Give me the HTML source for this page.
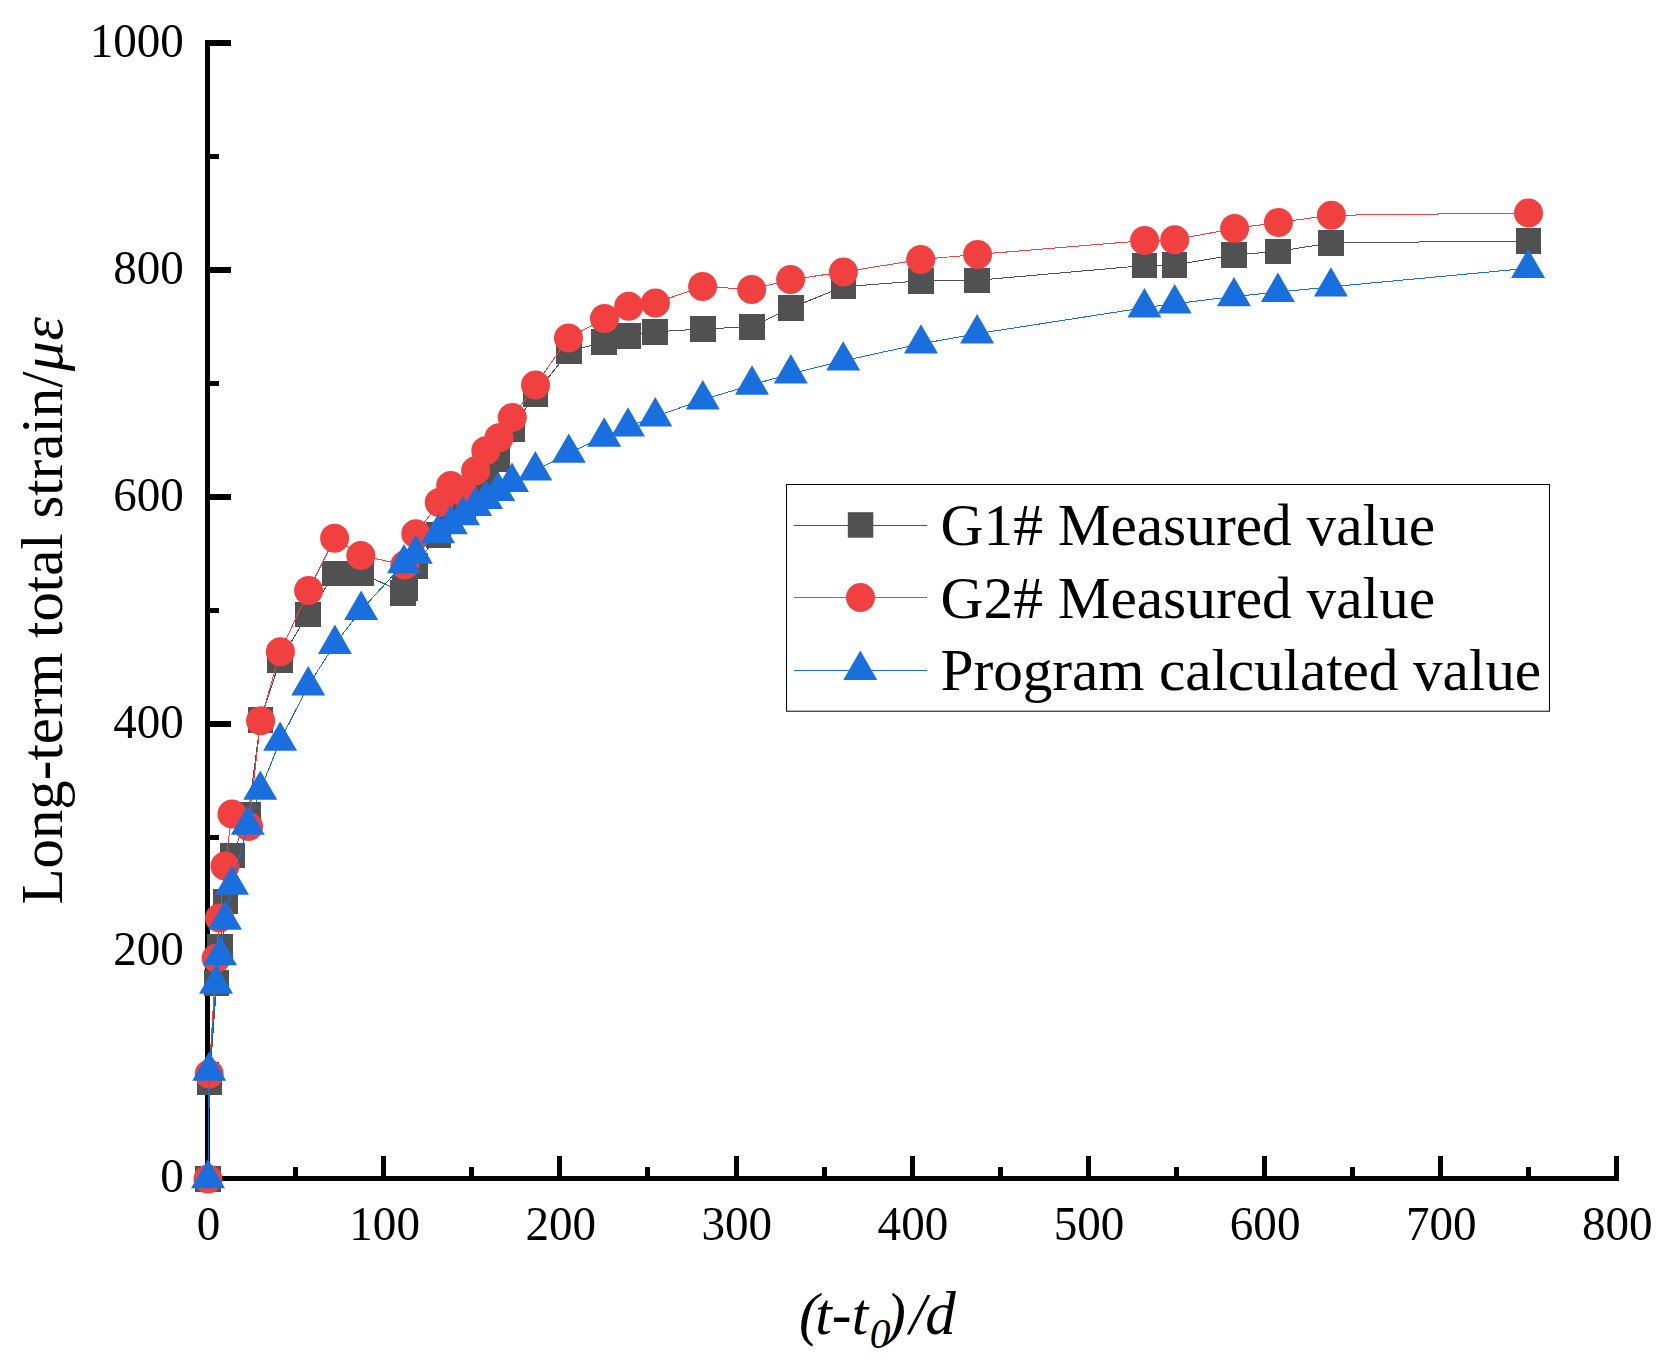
<!DOCTYPE html>
<html lang="en"><head><meta charset="utf-8"><title>Long-term total strain</title>
<style>
html,body{margin:0;padding:0;background:#fff;}
body{width:1674px;height:1369px;overflow:hidden;}
svg{display:block;}
text{font-family:"Liberation Serif",serif;fill:#000;}
.tk{font-size:47.1px;}
</style></head><body>
<svg width="1674" height="1369" viewBox="0 0 1674 1369">
<rect width="1674" height="1369" fill="#fff"/>

<g fill="#000" shape-rendering="crispEdges">
<rect x="205" y="40" width="5" height="1141"/>
<rect x="205" y="1176" width="1414" height="5"/>
<rect x="210" y="1062" width="9" height="5"/>
<rect x="210" y="948" width="21" height="6"/>
<rect x="210" y="835" width="9" height="5"/>
<rect x="210" y="721" width="21" height="6"/>
<rect x="210" y="608" width="9" height="5"/>
<rect x="210" y="494" width="21" height="6"/>
<rect x="210" y="381" width="9" height="5"/>
<rect x="210" y="267" width="21" height="6"/>
<rect x="210" y="154" width="9" height="5"/>
<rect x="210" y="40" width="21" height="6"/>
<rect x="293" y="1167" width="5" height="9"/>
<rect x="381" y="1156" width="5" height="20"/>
<rect x="469" y="1167" width="5" height="9"/>
<rect x="557" y="1156" width="5" height="20"/>
<rect x="645" y="1167" width="5" height="9"/>
<rect x="734" y="1156" width="5" height="20"/>
<rect x="822" y="1167" width="5" height="9"/>
<rect x="910" y="1156" width="5" height="20"/>
<rect x="998" y="1167" width="5" height="9"/>
<rect x="1086" y="1156" width="5" height="20"/>
<rect x="1174" y="1167" width="5" height="9"/>
<rect x="1262" y="1156" width="5" height="20"/>
<rect x="1350" y="1167" width="5" height="9"/>
<rect x="1438" y="1156" width="5" height="20"/>
<rect x="1526" y="1167" width="5" height="9"/>
<rect x="1614" y="1156" width="5" height="20"/>
</g>
<g class="tk" text-anchor="end">
<text transform="translate(183.9,1192.3) scale(1,1.045)">0</text>
<text transform="translate(183.9,965.2) scale(1,1.045)">200</text>
<text transform="translate(183.9,738.1) scale(1,1.045)">400</text>
<text transform="translate(183.9,511.0) scale(1,1.045)">600</text>
<text transform="translate(183.9,283.9) scale(1,1.045)">800</text>
<text transform="translate(183.9,56.8) scale(1,1.045)">1000</text>
</g>
<g class="tk" text-anchor="middle">
<text transform="translate(208.5,1239.9) scale(1,1.045)">0</text>
<text transform="translate(384.6,1239.9) scale(1,1.045)">100</text>
<text transform="translate(560.7,1239.9) scale(1,1.045)">200</text>
<text transform="translate(736.8,1239.9) scale(1,1.045)">300</text>
<text transform="translate(912.9,1239.9) scale(1,1.045)">400</text>
<text transform="translate(1089.0,1239.9) scale(1,1.045)">500</text>
<text transform="translate(1265.1,1239.9) scale(1,1.045)">600</text>
<text transform="translate(1441.2,1239.9) scale(1,1.045)">700</text>
<text transform="translate(1617.3,1239.9) scale(1,1.045)">800</text>
</g>
<text id="ylab" transform="translate(62,904.5) rotate(-90)" font-size="58.9">Long-term total strain/<tspan font-style="italic" font-size="59.5" letter-spacing="1">με</tspan></text>
<text id="xlab" x="799" y="1334" font-size="59.5" font-style="italic">(<tspan dx="-3.5">t-t</tspan><tspan font-size="41.5" dy="14" dx="1.5">0</tspan><tspan dy="-14" dx="-4.4">)</tspan><tspan dx="3.5">/</tspan><tspan dx="-0.7" font-size="61">d</tspan></text>
<polyline points="208.0,1179.0 209.4,1082.0 216.7,983.0 220.2,947.0 225.6,901.5 232.5,855.3 248.2,814.6 260.6,720.0 280.0,660.2 308.0,614.2 335.1,573.5 361.0,572.7 403.0,592.8 404.8,587.7 414.8,565.7 438.5,534.8 450.7,515.5 463.0,506.0 475.5,494.0 486.0,474.5 497.7,459.4 511.8,429.5 535.4,393.8 569.0,351.5 604.0,341.8 627.9,336.0 655.1,331.9 703.1,328.9 751.8,326.8 790.8,307.9 843.6,286.7 920.8,280.8 977.1,280.3 1144.6,265.5 1174.6,265.0 1234.1,254.9 1277.9,251.4 1331.1,242.9 1528.5,240.9" fill="none" stroke="#515151" stroke-width="1" shape-rendering="crispEdges"/>
<g fill="#515151" shape-rendering="crispEdges"><rect x="195.2" y="1166.2" width="25.5" height="25.5"/><rect x="196.7" y="1069.2" width="25.5" height="25.5"/><rect x="203.9" y="970.2" width="25.5" height="25.5"/><rect x="207.4" y="934.2" width="25.5" height="25.5"/><rect x="212.8" y="888.8" width="25.5" height="25.5"/><rect x="219.8" y="842.5" width="25.5" height="25.5"/><rect x="235.4" y="801.9" width="25.5" height="25.5"/><rect x="247.9" y="707.2" width="25.5" height="25.5"/><rect x="267.2" y="647.5" width="25.5" height="25.5"/><rect x="295.2" y="601.5" width="25.5" height="25.5"/><rect x="322.4" y="560.8" width="25.5" height="25.5"/><rect x="348.2" y="560.0" width="25.5" height="25.5"/><rect x="390.2" y="580.0" width="25.5" height="25.5"/><rect x="392.1" y="575.0" width="25.5" height="25.5"/><rect x="402.1" y="553.0" width="25.5" height="25.5"/><rect x="425.8" y="522.0" width="25.5" height="25.5"/><rect x="437.9" y="502.8" width="25.5" height="25.5"/><rect x="450.2" y="493.2" width="25.5" height="25.5"/><rect x="462.8" y="481.2" width="25.5" height="25.5"/><rect x="473.2" y="461.8" width="25.5" height="25.5"/><rect x="484.9" y="446.6" width="25.5" height="25.5"/><rect x="499.1" y="416.8" width="25.5" height="25.5"/><rect x="522.6" y="381.1" width="25.5" height="25.5"/><rect x="556.2" y="338.8" width="25.5" height="25.5"/><rect x="591.2" y="329.1" width="25.5" height="25.5"/><rect x="615.1" y="323.2" width="25.5" height="25.5"/><rect x="642.4" y="319.1" width="25.5" height="25.5"/><rect x="690.4" y="316.1" width="25.5" height="25.5"/><rect x="739.0" y="314.1" width="25.5" height="25.5"/><rect x="778.0" y="295.1" width="25.5" height="25.5"/><rect x="830.9" y="273.9" width="25.5" height="25.5"/><rect x="908.0" y="268.1" width="25.5" height="25.5"/><rect x="964.4" y="267.6" width="25.5" height="25.5"/><rect x="1131.8" y="252.8" width="25.5" height="25.5"/><rect x="1161.8" y="252.2" width="25.5" height="25.5"/><rect x="1221.3" y="242.2" width="25.5" height="25.5"/><rect x="1265.2" y="238.7" width="25.5" height="25.5"/><rect x="1318.3" y="230.2" width="25.5" height="25.5"/><rect x="1515.8" y="228.2" width="25.5" height="25.5"/></g>
<polyline points="208.0,1179.0 209.2,1074.0 216.2,958.3 219.5,918.0 225.0,866.0 232.0,814.0 248.6,826.5 260.6,720.7 280.4,651.7 308.6,590.4 334.6,538.3 360.8,555.5 404.8,565.0 415.8,533.8 439.2,502.5 450.7,485.5 463.0,492.0 475.6,470.7 485.8,450.8 499.0,437.8 512.3,417.5 535.5,385.0 568.5,338.0 604.5,318.5 628.7,306.3 655.4,303.0 702.6,286.4 751.7,289.5 790.6,279.6 843.4,272.0 920.7,259.5 977.6,254.4 1144.6,240.6 1174.7,239.7 1234.6,228.5 1278.4,222.4 1331.4,215.3 1528.5,212.9" fill="none" stroke="#F14040" stroke-width="1" shape-rendering="crispEdges"/>
<g fill="#F14040"><circle cx="208.0" cy="1179.0" r="14.5"/><circle cx="209.2" cy="1074.0" r="14.5"/><circle cx="216.2" cy="958.3" r="14.5"/><circle cx="219.5" cy="918.0" r="14.5"/><circle cx="225.0" cy="866.0" r="14.5"/><circle cx="232.0" cy="814.0" r="14.5"/><circle cx="248.6" cy="826.5" r="14.5"/><circle cx="260.6" cy="720.7" r="14.5"/><circle cx="280.4" cy="651.7" r="14.5"/><circle cx="308.6" cy="590.4" r="14.5"/><circle cx="334.6" cy="538.3" r="14.5"/><circle cx="360.8" cy="555.5" r="14.5"/><circle cx="404.8" cy="565.0" r="14.5"/><circle cx="415.8" cy="533.8" r="14.5"/><circle cx="439.2" cy="502.5" r="14.5"/><circle cx="450.7" cy="485.5" r="14.5"/><circle cx="463.0" cy="492.0" r="14.5"/><circle cx="475.6" cy="470.7" r="14.5"/><circle cx="485.8" cy="450.8" r="14.5"/><circle cx="499.0" cy="437.8" r="14.5"/><circle cx="512.3" cy="417.5" r="14.5"/><circle cx="535.5" cy="385.0" r="14.5"/><circle cx="568.5" cy="338.0" r="14.5"/><circle cx="604.5" cy="318.5" r="14.5"/><circle cx="628.7" cy="306.3" r="14.5"/><circle cx="655.4" cy="303.0" r="14.5"/><circle cx="702.6" cy="286.4" r="14.5"/><circle cx="751.7" cy="289.5" r="14.5"/><circle cx="790.6" cy="279.6" r="14.5"/><circle cx="843.4" cy="272.0" r="14.5"/><circle cx="920.7" cy="259.5" r="14.5"/><circle cx="977.6" cy="254.4" r="14.5"/><circle cx="1144.6" cy="240.6" r="14.5"/><circle cx="1174.7" cy="239.7" r="14.5"/><circle cx="1234.6" cy="228.5" r="14.5"/><circle cx="1278.4" cy="222.4" r="14.5"/><circle cx="1331.4" cy="215.3" r="14.5"/><circle cx="1528.5" cy="212.9" r="14.5"/></g>
<polyline points="208.0,1178.5 209.2,1071.0 216.0,984.0 220.0,955.5 225.0,920.0 232.0,885.0 247.8,825.0 260.3,790.0 280.1,741.0 308.2,685.6 334.9,644.1 361.1,610.2 404.0,563.5 415.8,554.0 438.1,533.4 450.8,524.5 463.0,515.5 475.2,506.3 486.0,499.1 498.2,491.1 512.0,482.2 535.3,470.7 568.8,453.0 604.2,436.9 628.0,426.8 655.3,416.6 702.8,399.7 752.0,384.9 790.8,373.7 843.2,360.8 921.0,343.8 977.1,333.7 1144.4,307.7 1174.7,303.7 1234.0,296.5 1277.9,292.1 1330.9,286.8 1528.1,268.3" fill="none" stroke="#1A6FDF" stroke-width="1" shape-rendering="crispEdges"/>
<g fill="#1A6FDF"><polygon points="208.0,1158.9 191.0,1188.3 225.0,1188.3"/><polygon points="209.2,1051.4 192.2,1080.8 226.2,1080.8"/><polygon points="216.0,964.4 199.0,993.8 233.0,993.8"/><polygon points="220.0,935.9 203.0,965.3 237.0,965.3"/><polygon points="225.0,900.4 208.0,929.8 242.0,929.8"/><polygon points="232.0,865.4 215.0,894.8 249.0,894.8"/><polygon points="247.8,805.4 230.8,834.8 264.8,834.8"/><polygon points="260.3,770.4 243.3,799.8 277.3,799.8"/><polygon points="280.1,721.4 263.1,750.8 297.1,750.8"/><polygon points="308.2,666.0 291.2,695.4 325.2,695.4"/><polygon points="334.9,624.5 317.9,653.9 351.9,653.9"/><polygon points="361.1,590.6 344.1,620.0 378.1,620.0"/><polygon points="404.0,543.9 387.0,573.3 421.0,573.3"/><polygon points="415.8,534.4 398.8,563.8 432.8,563.8"/><polygon points="438.1,513.8 421.1,543.2 455.1,543.2"/><polygon points="450.8,504.9 433.8,534.3 467.8,534.3"/><polygon points="463.0,495.9 446.0,525.3 480.0,525.3"/><polygon points="475.2,486.7 458.2,516.1 492.2,516.1"/><polygon points="486.0,479.5 469.0,508.9 503.0,508.9"/><polygon points="498.2,471.5 481.2,500.9 515.2,500.9"/><polygon points="512.0,462.6 495.0,492.0 529.0,492.0"/><polygon points="535.3,451.1 518.3,480.5 552.3,480.5"/><polygon points="568.8,433.4 551.8,462.8 585.8,462.8"/><polygon points="604.2,417.3 587.2,446.7 621.2,446.7"/><polygon points="628.0,407.2 611.0,436.6 645.0,436.6"/><polygon points="655.3,397.0 638.3,426.4 672.3,426.4"/><polygon points="702.8,380.1 685.8,409.5 719.8,409.5"/><polygon points="752.0,365.3 735.0,394.7 769.0,394.7"/><polygon points="790.8,354.1 773.8,383.5 807.8,383.5"/><polygon points="843.2,341.2 826.2,370.6 860.2,370.6"/><polygon points="921.0,324.2 904.0,353.6 938.0,353.6"/><polygon points="977.1,314.1 960.1,343.5 994.1,343.5"/><polygon points="1144.4,288.1 1127.4,317.5 1161.4,317.5"/><polygon points="1174.7,284.1 1157.7,313.5 1191.7,313.5"/><polygon points="1234.0,276.9 1217.0,306.3 1251.0,306.3"/><polygon points="1277.9,272.5 1260.9,301.9 1294.9,301.9"/><polygon points="1330.9,267.2 1313.9,296.6 1347.9,296.6"/><polygon points="1528.1,248.7 1511.1,278.1 1545.1,278.1"/></g>
<rect x="786.5" y="484.5" width="763" height="226.7" fill="#fff" stroke="#000" stroke-width="1"/>
<line x1="794.3" y1="525.5" x2="926.7" y2="525.5" stroke="#515151" stroke-width="1" shape-rendering="crispEdges"/>
<g fill="#515151"><rect x="847.8" y="512.2" width="25.5" height="25.5"/></g>
<text class="lg" x="940.6" y="545" font-size="59.4" letter-spacing="-0.02">G1# Measured value</text>
<line x1="794.3" y1="597.5" x2="926.7" y2="597.5" stroke="#F14040" stroke-width="1" shape-rendering="crispEdges"/>
<g fill="#F14040"><circle cx="860.5" cy="597.5" r="14.5"/></g>
<text class="lg" x="940.6" y="618" font-size="59.4" letter-spacing="-0.02">G2# Measured value</text>
<line x1="794.3" y1="670.5" x2="926.7" y2="670.5" stroke="#1A6FDF" stroke-width="1" shape-rendering="crispEdges"/>
<g fill="#1A6FDF"><polygon points="860.3,650.6 843.3,680.0 877.3,680.0"/></g>
<text class="lg" x="940.6" y="690.3" font-size="59.4" letter-spacing="-0.13">Program calculated value</text>
</svg></body></html>
